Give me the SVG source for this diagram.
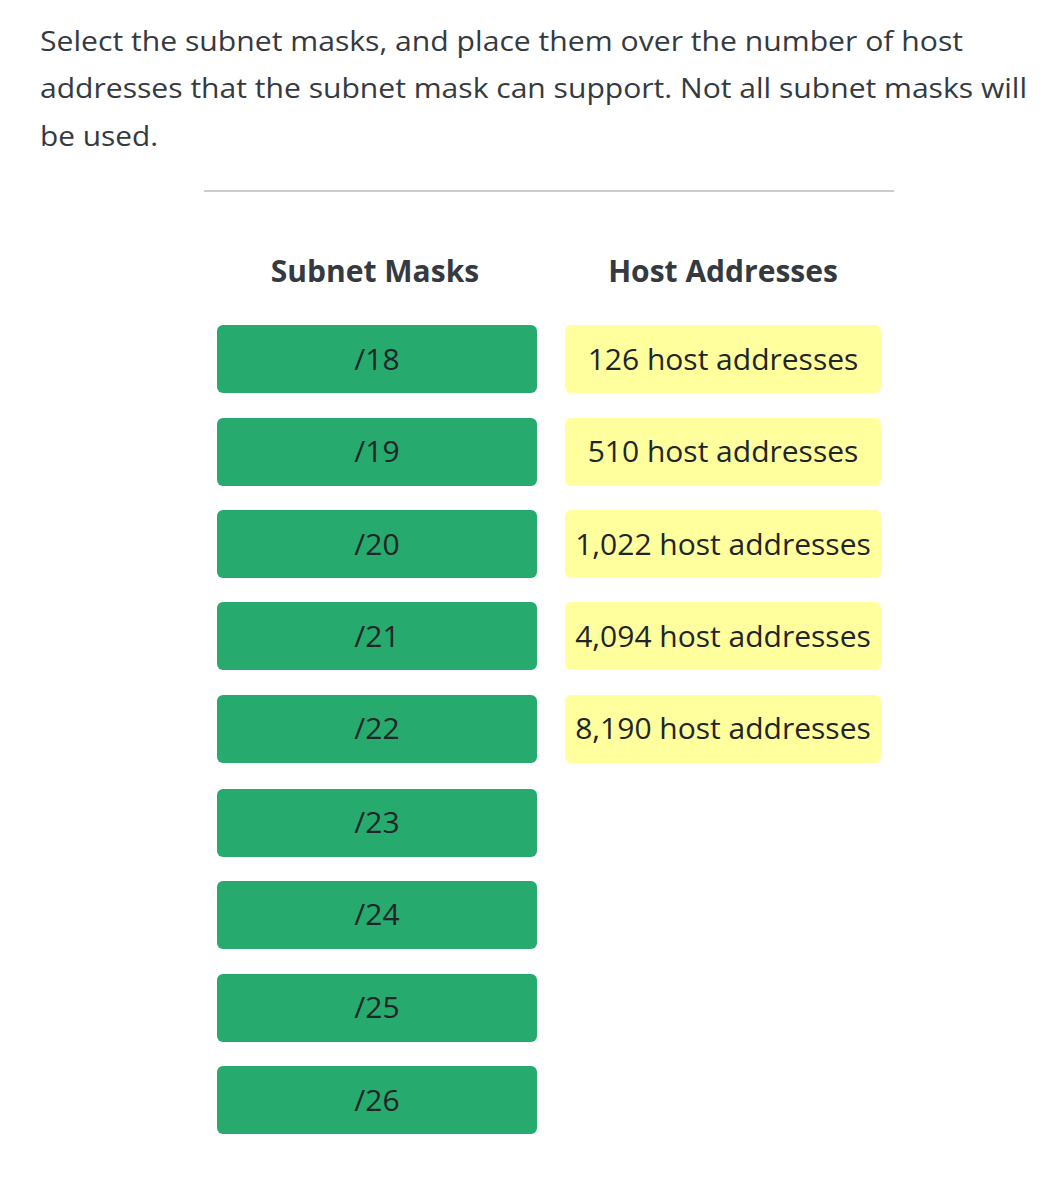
<svg xmlns="http://www.w3.org/2000/svg" width="1056" height="1200" viewBox="0 0 1056 1200">
<style>
.p{font-family:"Open Sans","Noto Sans","Liberation Sans",sans-serif;font-size:28px;fill:#343a40}
.h{font-family:"Open Sans","Noto Sans","Liberation Sans",sans-serif;font-size:30px;font-weight:bold;fill:#343a40;text-anchor:middle}
.m{fill:#26aa6d}
.a{fill:#ffff9e}
.t{font-family:"Open Sans","Noto Sans","Liberation Sans",sans-serif;font-size:30px;fill:#212529;text-anchor:middle}
</style>
<rect width="1056" height="1200" fill="#fff"/>
<text class="p" x="40" y="51" textLength="923" lengthAdjust="spacingAndGlyphs">Select the subnet masks, and place them over the number of host</text>
<text class="p" x="40" y="98" textLength="987" lengthAdjust="spacingAndGlyphs">addresses that the subnet mask can support. Not all subnet masks will</text>
<text class="p" x="40" y="146" textLength="118" lengthAdjust="spacingAndGlyphs">be used.</text>
<line x1="204" y1="191" x2="894" y2="191" stroke="#cccccc" stroke-width="2"/>
<text class="h" x="375" y="282">Subnet Masks</text>
<text class="h" x="723" y="282">Host Addresses</text>
<g id="mask-18"><rect class="m" x="217" y="325" width="320" height="68" rx="6"/><text class="t" x="377" y="370">/18</text></g>
<g id="mask-19"><rect class="m" x="217" y="418" width="320" height="68" rx="6"/><text class="t" x="377" y="462">/19</text></g>
<g id="mask-20"><rect class="m" x="217" y="510" width="320" height="68" rx="6"/><text class="t" x="377" y="555">/20</text></g>
<g id="mask-21"><rect class="m" x="217" y="602" width="320" height="68" rx="6"/><text class="t" x="377" y="647">/21</text></g>
<g id="mask-22"><rect class="m" x="217" y="695" width="320" height="68" rx="6"/><text class="t" x="377" y="739">/22</text></g>
<g id="mask-23"><rect class="m" x="217" y="789" width="320" height="68" rx="6"/><text class="t" x="377" y="833">/23</text></g>
<g id="mask-24"><rect class="m" x="217" y="881" width="320" height="68" rx="6"/><text class="t" x="377" y="925">/24</text></g>
<g id="mask-25"><rect class="m" x="217" y="974" width="320" height="68" rx="6"/><text class="t" x="377" y="1018">/25</text></g>
<g id="mask-26"><rect class="m" x="217" y="1066" width="320" height="68" rx="6"/><text class="t" x="377" y="1111">/26</text></g>
<g id="host-126"><rect class="a" x="565" y="325" width="316" height="68" rx="6"/><text class="t" x="723" y="370">126 host addresses</text></g>
<g id="host-510"><rect class="a" x="565" y="418" width="316" height="68" rx="6"/><text class="t" x="723" y="462">510 host addresses</text></g>
<g id="host-1022"><rect class="a" x="565" y="510" width="316" height="68" rx="6"/><text class="t" x="723" y="555">1,022 host addresses</text></g>
<g id="host-4094"><rect class="a" x="565" y="602" width="316" height="68" rx="6"/><text class="t" x="723" y="647">4,094 host addresses</text></g>
<g id="host-8190"><rect class="a" x="565" y="695" width="316" height="68" rx="6"/><text class="t" x="723" y="739">8,190 host addresses</text></g>
<g id="connectors"/>
</svg>
